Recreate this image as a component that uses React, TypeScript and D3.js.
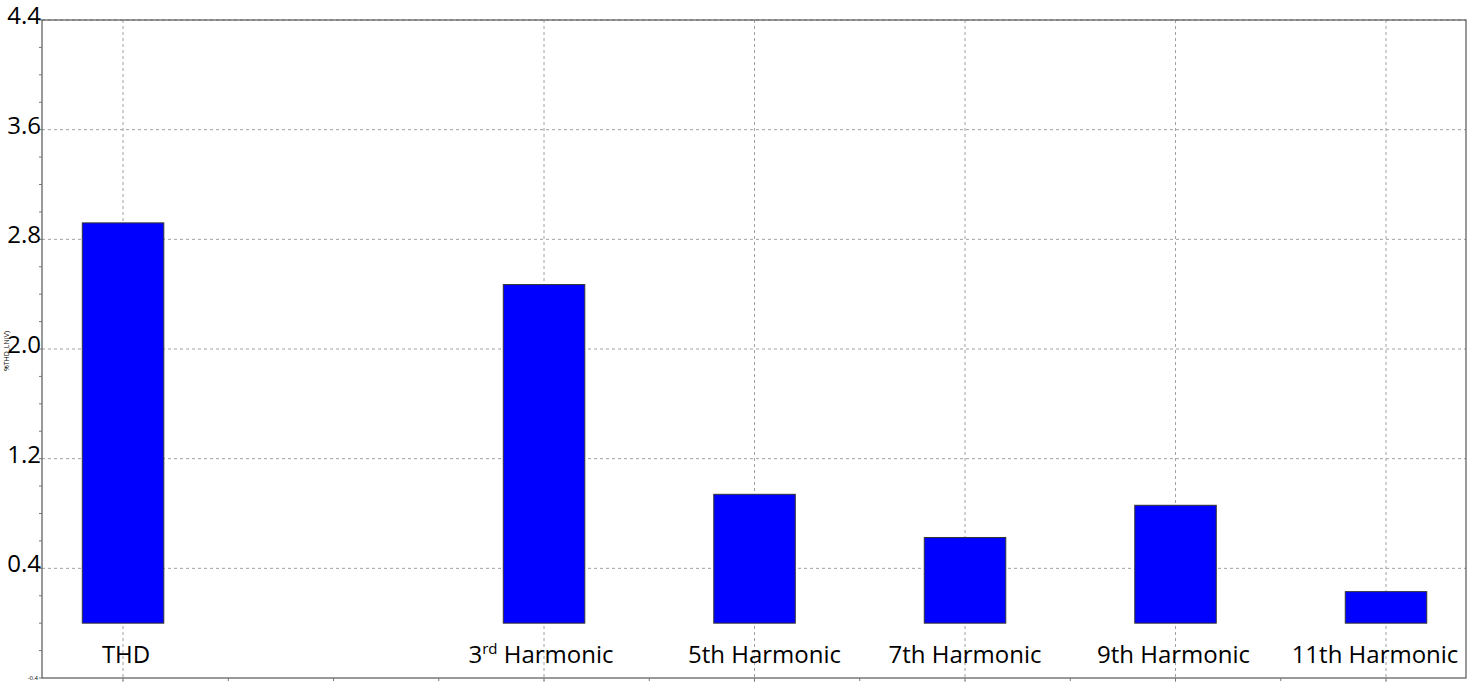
import React, { useEffect, useRef, ReactElement } from 'react'
import * as d3 from 'd3'

// harmonic categories, slot 1 (2nd harmonic) is empty on the axis
const categories = ['THD', '', '3rd Harmonic', '5th Harmonic', '7th Harmonic', '9th Harmonic', '11th Harmonic']
const values = [2.92, null, 2.47, 0.94, 0.625, 0.86, 0.23]
const yTicks = [4.4, 3.6, 2.8, 2.0, 1.2, 0.4]

// the source tool places labels a bit off-centre
const labelNudge = [3, 0, -3, 10, 0, -2, -11]

const W = 1473
const H = 683

const HarmonicsChart = (): ReactElement => {
  const ref = useRef<SVGSVGElement>(null)

  useEffect(() => {
    const svg = d3.select(ref.current)
    svg.selectAll('*').remove()

    const margin = { top: 20, right: 7, bottom: 5, left: 42 }
    const x = d3.scaleLinear()
      .domain([-0.385, categories.length - 1 + 0.38])
      .range([margin.left, W - margin.right])
    const y = d3.scaleLinear()
      .domain([-0.4, 4.4])
      .range([H - margin.bottom, margin.top])
    const font = '"Open Sans", sans-serif'
    const barW = 81.5
    const gridColor = '#a0a0a0'

    // horizontal grid
    svg.append('g')
      .selectAll('line')
      .data(yTicks)
      .join('line')
      .attr('x1', margin.left)
      .attr('x2', W - margin.right)
      .attr('y1', d => y(d))
      .attr('y2', d => y(d))
      .attr('stroke', gridColor)
      .attr('stroke-dasharray', '3,3')

    // vertical grid at the used categories
    const used = categories.map((c, i) => ({ c, i })).filter(d => d.c !== '')
    svg.append('g')
      .selectAll('line')
      .data(used)
      .join('line')
      .attr('x1', d => x(d.i))
      .attr('x2', d => x(d.i))
      .attr('y1', margin.top)
      .attr('y2', H - margin.bottom + 4)
      .attr('stroke', gridColor)
      .attr('stroke-dasharray', '3,3')

    // bars
    const bars = values.map((v, i) => ({ v, i })).filter(d => d.v !== null) as { v: number, i: number }[]
    svg.append('g')
      .selectAll('rect')
      .data(bars)
      .join('rect')
      .attr('x', d => x(d.i) - barW / 2)
      .attr('width', barW)
      .attr('y', d => y(d.v))
      .attr('height', d => y(0) - y(d.v))
      .attr('fill', '#0000ff')
      .attr('stroke', '#333')
      .attr('stroke-width', 1)

    // frame
    svg.append('rect')
      .attr('x', margin.left)
      .attr('y', margin.top)
      .attr('width', W - margin.right - margin.left)
      .attr('height', H - margin.bottom - margin.top)
      .attr('fill', 'none')
      .attr('stroke', '#555')
      .attr('stroke-width', 1.2)

    // y minor ticks
    const yMinor = d3.range(-0.4, 4.41, 0.2)
    svg.append('g')
      .selectAll('line')
      .data(yMinor)
      .join('line')
      .attr('x1', margin.left - 3)
      .attr('x2', margin.left)
      .attr('y1', d => y(d))
      .attr('y2', d => y(d))
      .attr('stroke', '#777')

    // x minor ticks
    const xMinor = d3.range(-0.5, categories.length, 0.5).filter(d => x(d) > margin.left + 5 && x(d) < W - margin.right - 5)
    svg.append('g')
      .selectAll('line')
      .data(xMinor)
      .join('line')
      .attr('x1', d => x(d))
      .attr('x2', d => x(d))
      .attr('y1', H - margin.bottom)
      .attr('y2', H - margin.bottom + 3)
      .attr('stroke', '#777')

    // y tick labels
    svg.append('g')
      .selectAll('text')
      .data(yTicks)
      .join('text')
      .attr('x', margin.left - 1)
      .attr('y', d => y(d) + 4)
      .attr('text-anchor', 'end')
      .style('font-family', font)
      .style('font-size', '24px')
      .text(d => d.toFixed(1))

    svg.append('text')
      .attr('x', margin.left - 4)
      .attr('y', y(-0.4) + 2)
      .attr('text-anchor', 'end')
      .style('font-family', font)
      .style('font-size', '6px')
      .text('-0.4')

    // category labels
    const labels = svg.append('g')
      .selectAll('text')
      .data(used)
      .join('text')
      .attr('x', d => x(d.i) + labelNudge[d.i])
      .attr('y', 663)
      .attr('text-anchor', 'middle')
      .style('font-family', font)
      .style('font-size', '24px')

    labels.each(function (d) {
      const t = d3.select(this)
      const m = d.c.match(/^(\d+)(rd)(.*)$/)
      if (m) {
        t.append('tspan').text(m[1])
        t.append('tspan').attr('dy', -9).style('font-size', '15px').text(m[2])
        t.append('tspan').attr('dy', 9).text(m[3])
      } else {
        t.text(d.c)
      }
    })

    // axis title, tiny and rotated
    svg.append('text')
      .attr('transform', `translate(9, ${(margin.top + H - margin.bottom) / 2 + 2}) rotate(-90)`)
      .attr('text-anchor', 'middle')
      .style('font-family', font)
      .style('font-size', '7px')
      .text('%THD_LN(V)')
  }, [])

  return (
    <svg ref={ref} width={W} height={H} style={{ position: 'absolute', left: 0, top: 0, background: '#fff' }} />
  )
}

export default function App(): ReactElement {
  return <HarmonicsChart />
}
